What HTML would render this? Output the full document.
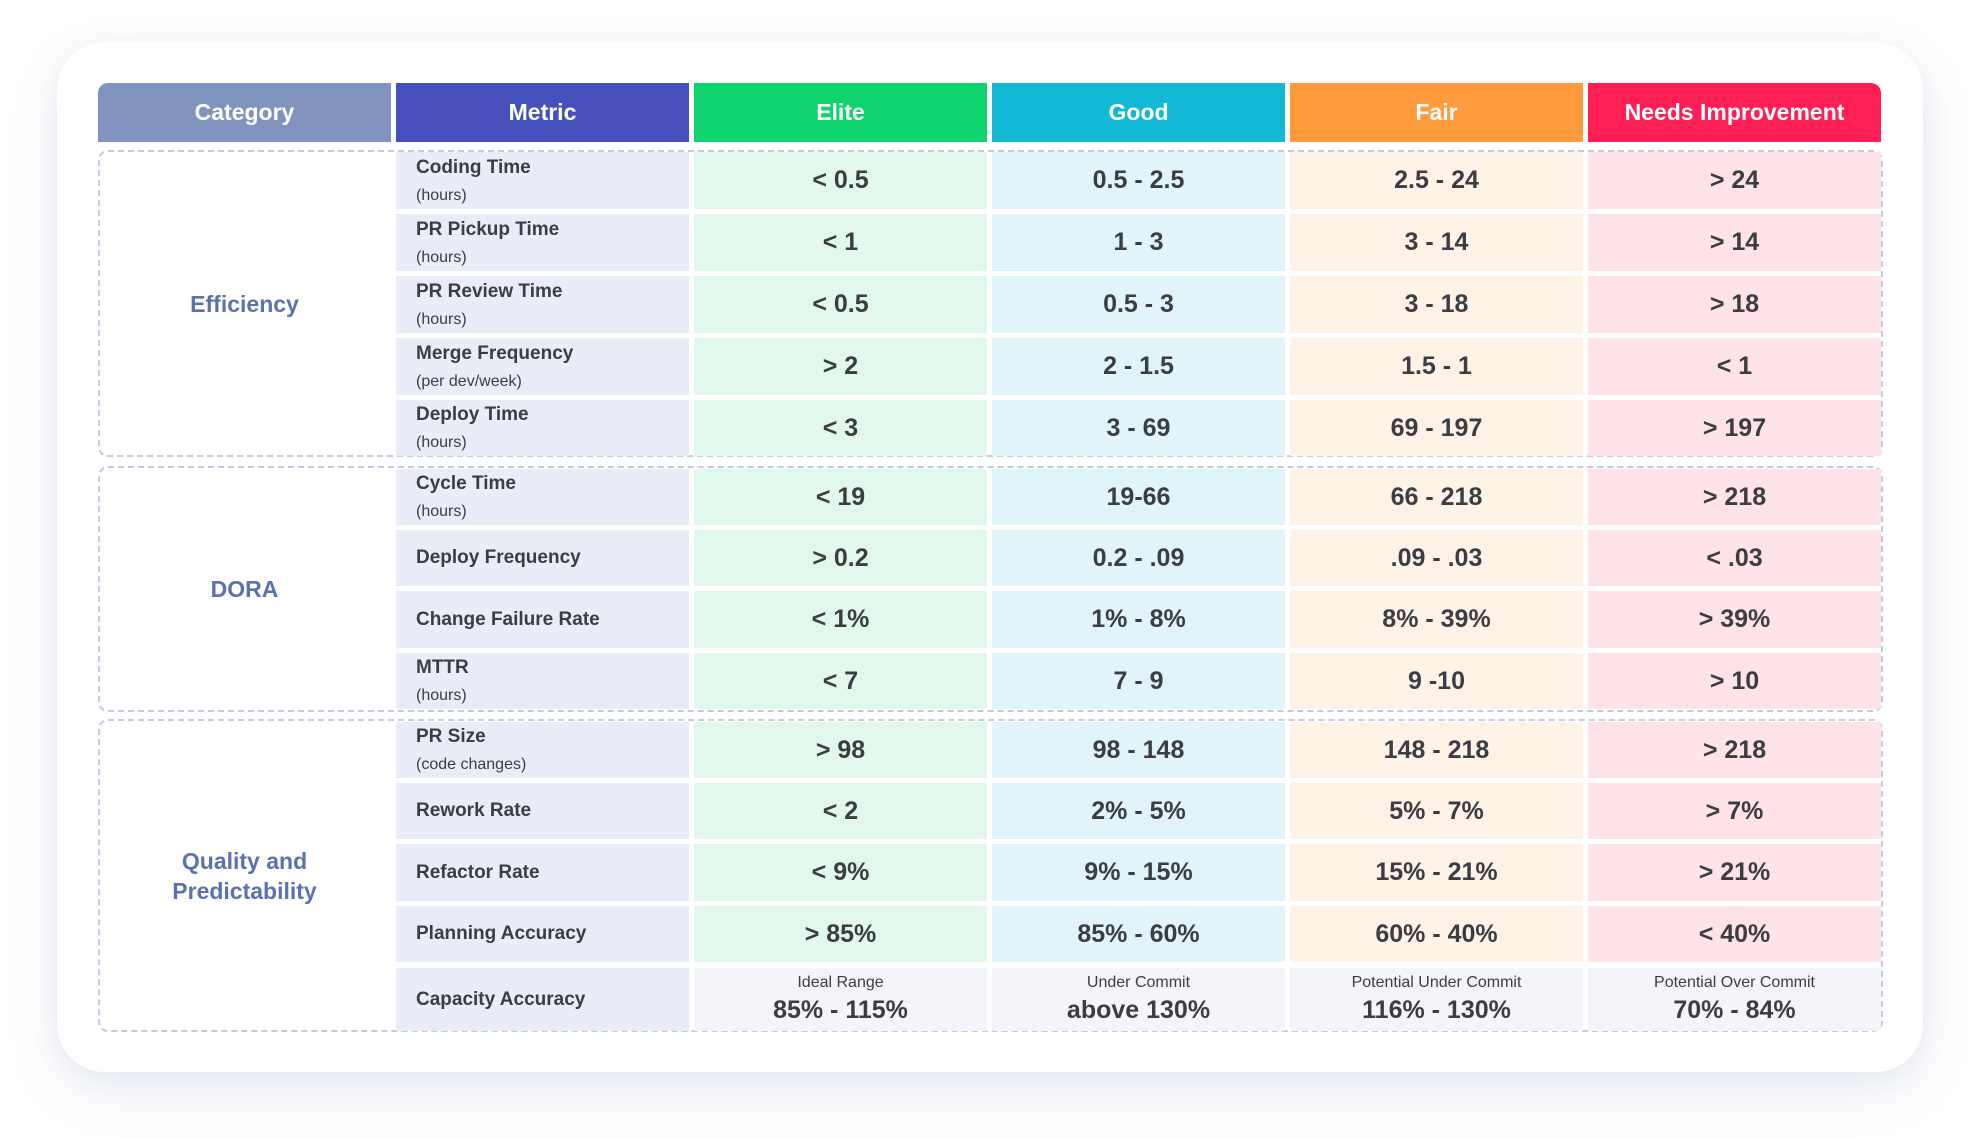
<!DOCTYPE html>
<html><head><meta charset="utf-8"><style>
body{margin:0;width:1976px;height:1139px;background:#fff;position:relative;overflow:hidden;font-family:"Liberation Sans",sans-serif;color:#3b3d42}
#card{position:absolute;left:57px;top:42px;width:1866px;height:1030px;background:#fff;border-radius:48px;box-shadow:0 20px 50px rgba(120,135,180,0.16),0 0 30px rgba(120,135,180,0.08)}
.a{position:absolute;box-sizing:border-box}
.h{color:#fff;font-weight:bold;font-size:23px;display:flex;align-items:center;justify-content:center}
.c{display:flex;align-items:center;justify-content:center;font-weight:bold;font-size:25px;text-align:center}
.m{padding-left:20px;font-weight:bold;font-size:19px;display:flex;flex-direction:column;justify-content:center}
.m span{font-weight:normal;font-size:16px;margin-top:8px}
.box{border:2px dashed #c3cbe0;border-radius:10px}
.cat{color:#5b72b0;font-weight:bold;font-size:23px;text-align:center;line-height:30px;display:flex;align-items:center;justify-content:center}
.cap{flex-direction:column}
.cap small{font-weight:normal;font-size:16px;margin-bottom:4px}
</style></head><body>
<div id="card"></div>
<div id="root"></div>
<script>
const headers=["Category","Metric","Elite","Good","Fair","Needs Improvement"];
const headerColors=["#8094bf","#4550bd","#0fd46e","#12b8d4","#ff9b3d","#ff1f55"];
const cellBg=["#eaedf8","#e1f8ec","#e0f5f9","#fff2e6","#ffe3e8"];
const groups=["Efficiency","DORA","Quality and<br>Predictability"];
const metrics=[
 [0,"Coding Time","(hours)","< 0.5","0.5 - 2.5","2.5 - 24","> 24"],
 [0,"PR Pickup Time","(hours)","< 1","1 - 3","3 - 14","> 14"],
 [0,"PR Review Time","(hours)","< 0.5","0.5 - 3","3 - 18","> 18"],
 [0,"Merge Frequency","(per dev/week)","> 2","2 - 1.5","1.5 - 1","< 1"],
 [0,"Deploy Time","(hours)","< 3","3 - 69","69 - 197","> 197"],
 [1,"Cycle Time","(hours)","< 19","19-66","66 - 218","> 218"],
 [1,"Deploy Frequency","","> 0.2","0.2 - .09",".09 - .03","< .03"],
 [1,"Change Failure Rate","","< 1%","1% - 8%","8% - 39%","> 39%"],
 [1,"MTTR","(hours)","< 7","7 - 9","9 -10","> 10"],
 [2,"PR Size","(code changes)","> 98","98 - 148","148 - 218","> 218"],
 [2,"Rework Rate","","< 2","2% - 5%","5% - 7%","> 7%"],
 [2,"Refactor Rate","","< 9%","9% - 15%","15% - 21%","> 21%"],
 [2,"Planning Accuracy","","> 85%","85% - 60%","60% - 40%","< 40%"]
];
const capLabels=["Ideal Range","Under Commit","Potential Under Commit","Potential Over Commit"];
const capValues=["85% - 115%","above 130%","116% - 130%","70% - 84%"];
const root=document.getElementById('root');
const X0=98,PITCH=298,CW=293;
function mk(cls,l,t,w,h,html){const d=document.createElement('div');d.className='a '+cls;d.style.left=l+'px';d.style.top=t+'px';d.style.width=w+'px';d.style.height=h+'px';d.innerHTML=html;root.appendChild(d);return d;}
headers.forEach((t,i)=>{const d=mk('h',X0+i*PITCH,83,CW,59,t);d.style.background=headerColors[i];
if(i==0)d.style.borderTopLeftRadius='10px';if(i==5)d.style.borderTopRightRadius='10px';

});
const boxes=[[150,457],[466,712],[719,1032]];
const rowTops=[152,214,276,338,400,469,530,591,653,722,783,844,906,968];
const rowEnds=[209,271,333,395,456,530-5,586,648,709,778,839,901,962,1031];
boxes.forEach((b,g)=>{const d=mk('box',X0,b[0],1883-X0,b[1]-b[0],'');


const c=mk('cat',X0,b[0],CW,b[1]-b[0],groups[g]);

});
metrics.forEach((r,i)=>{const t=rowTops[i],h=rowEnds[i]-t;
const m=mk('m',X0+PITCH,t,CW,h,r[1]+(r[2]?'<span>'+r[2]+'</span>':''));m.style.background=cellBg[0];


for(let k=0;k<4;k++){const c=mk('c',X0+(k+2)*PITCH,t,CW,h,r[3+k]);c.style.background=cellBg[k+1];

}});
{const t=rowTops[13],h=rowEnds[13]-t;
const m=mk('m',X0+PITCH,t,CW,h,'Capacity Accuracy');m.style.background=cellBg[0];


for(let k=0;k<4;k++){const c=mk('c cap',X0+(k+2)*PITCH,t,CW,h,'<small>'+capLabels[k]+'</small>'+capValues[k]);c.style.background='#f4f5fa';

}}
</script>
</body></html>
